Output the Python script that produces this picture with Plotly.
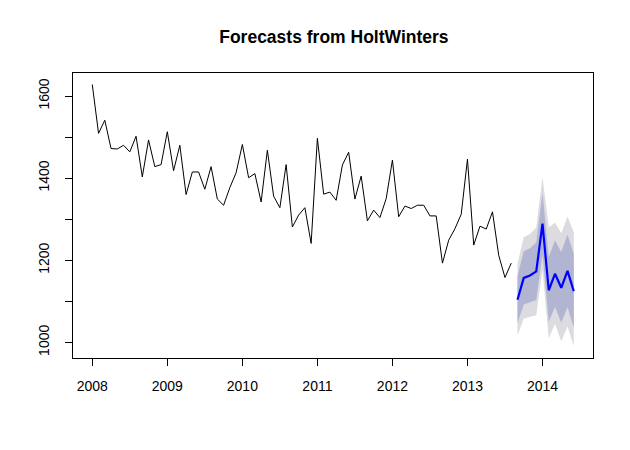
import plotly.graph_objects as go

# Observed monthly series, Jan 2008 .. Aug 2013
start_year = 2008
observed = [1628, 1509, 1541, 1472, 1471, 1480, 1464, 1502, 1403, 1493, 1428, 1433,
            1513, 1418, 1480, 1360, 1415, 1415, 1373, 1428, 1349, 1334, 1377, 1413,
            1482, 1401, 1411, 1342, 1468, 1356, 1328, 1433, 1281, 1310, 1328, 1241,
            1497, 1361, 1366, 1346, 1432, 1463, 1349, 1405, 1296, 1322, 1304, 1350,
            1444, 1306, 1332, 1326, 1334, 1334, 1308, 1308, 1193, 1249, 1277, 1312,
            1446, 1237, 1283, 1276, 1318, 1212, 1158, 1193]

# Forecast, Sep 2013 .. Jun 2014
fc_mean = [1104, 1157, 1163, 1173, 1289, 1127, 1167, 1133, 1174, 1125]
lo95 = [1017, 1058, 1062, 1066, 1176, 1010, 1045, 1003, 1039, 991]
hi95 = [1191, 1256, 1264, 1280, 1402, 1280, 1292, 1266, 1306, 1268]
lo80 = [1047, 1092, 1097, 1103, 1215, 1050, 1087, 1048, 1086, 1036]
hi80 = [1161, 1222, 1229, 1243, 1363, 1208, 1248, 1220, 1262, 1216]

x_ticks = [2008, 2009, 2010, 2011, 2012, 2013, 2014]
y_ticks = [1000, 1100, 1200, 1300, 1400, 1500, 1600]
y_labels = ["1000", "", "1200", "", "1400", "", "1600"]

x_obs = [start_year + i / 12 for i in range(len(observed))]
x_fc = [start_year + (len(observed) + i) / 12 for i in range(len(fc_mean))]

fig = go.Figure()
fig.add_trace(go.Scatter(x=x_fc + x_fc[::-1], y=hi95 + lo95[::-1], fill="toself",
                         fillcolor="#DBDBE0", line=dict(width=0), mode="lines",
                         hoverinfo="skip", showlegend=False))
fig.add_trace(go.Scatter(x=x_fc + x_fc[::-1], y=hi80 + lo80[::-1], fill="toself",
                         fillcolor="#B1B5D1", line=dict(width=0), mode="lines",
                         hoverinfo="skip", showlegend=False))
fig.add_trace(go.Scatter(x=x_obs, y=observed, mode="lines",
                         line=dict(color="black", width=1), showlegend=False))
fig.add_trace(go.Scatter(x=x_fc, y=fc_mean, mode="lines",
                         line=dict(color="#0000FF", width=2.2), showlegend=False))

fig.update_layout(
    width=630, height=450,
    margin=dict(l=73, r=37, t=73, b=92),
    paper_bgcolor="white", plot_bgcolor="white",
    font=dict(family="Liberation Sans, Arial, sans-serif", size=14, color="black"),
    title=dict(text="<b>Forecasts from HoltWinters</b>", x=0.53, xanchor="center",
               y=1 - 37 / 450, yanchor="middle", font=dict(size=17.5)),
)
fig.update_xaxes(range=[2007.743, 2014.673], tickvals=x_ticks,
                 ticktext=[str(v) for v in x_ticks],
                 showline=True, mirror=True, linecolor="black", linewidth=1,
                 ticks="outside", ticklen=7, tickcolor="black", tickwidth=1,
                 showgrid=False, zeroline=False, ticklabelstandoff=8)
fig.update_yaxes(range=[962, 1656], tickvals=y_ticks, ticktext=y_labels,
                 tickangle=-90,
                 showline=True, mirror=True, linecolor="black", linewidth=1,
                 ticks="outside", ticklen=7, tickcolor="black", tickwidth=1,
                 showgrid=False, zeroline=False, ticklabelstandoff=10)

fig.write_html("out.html")
